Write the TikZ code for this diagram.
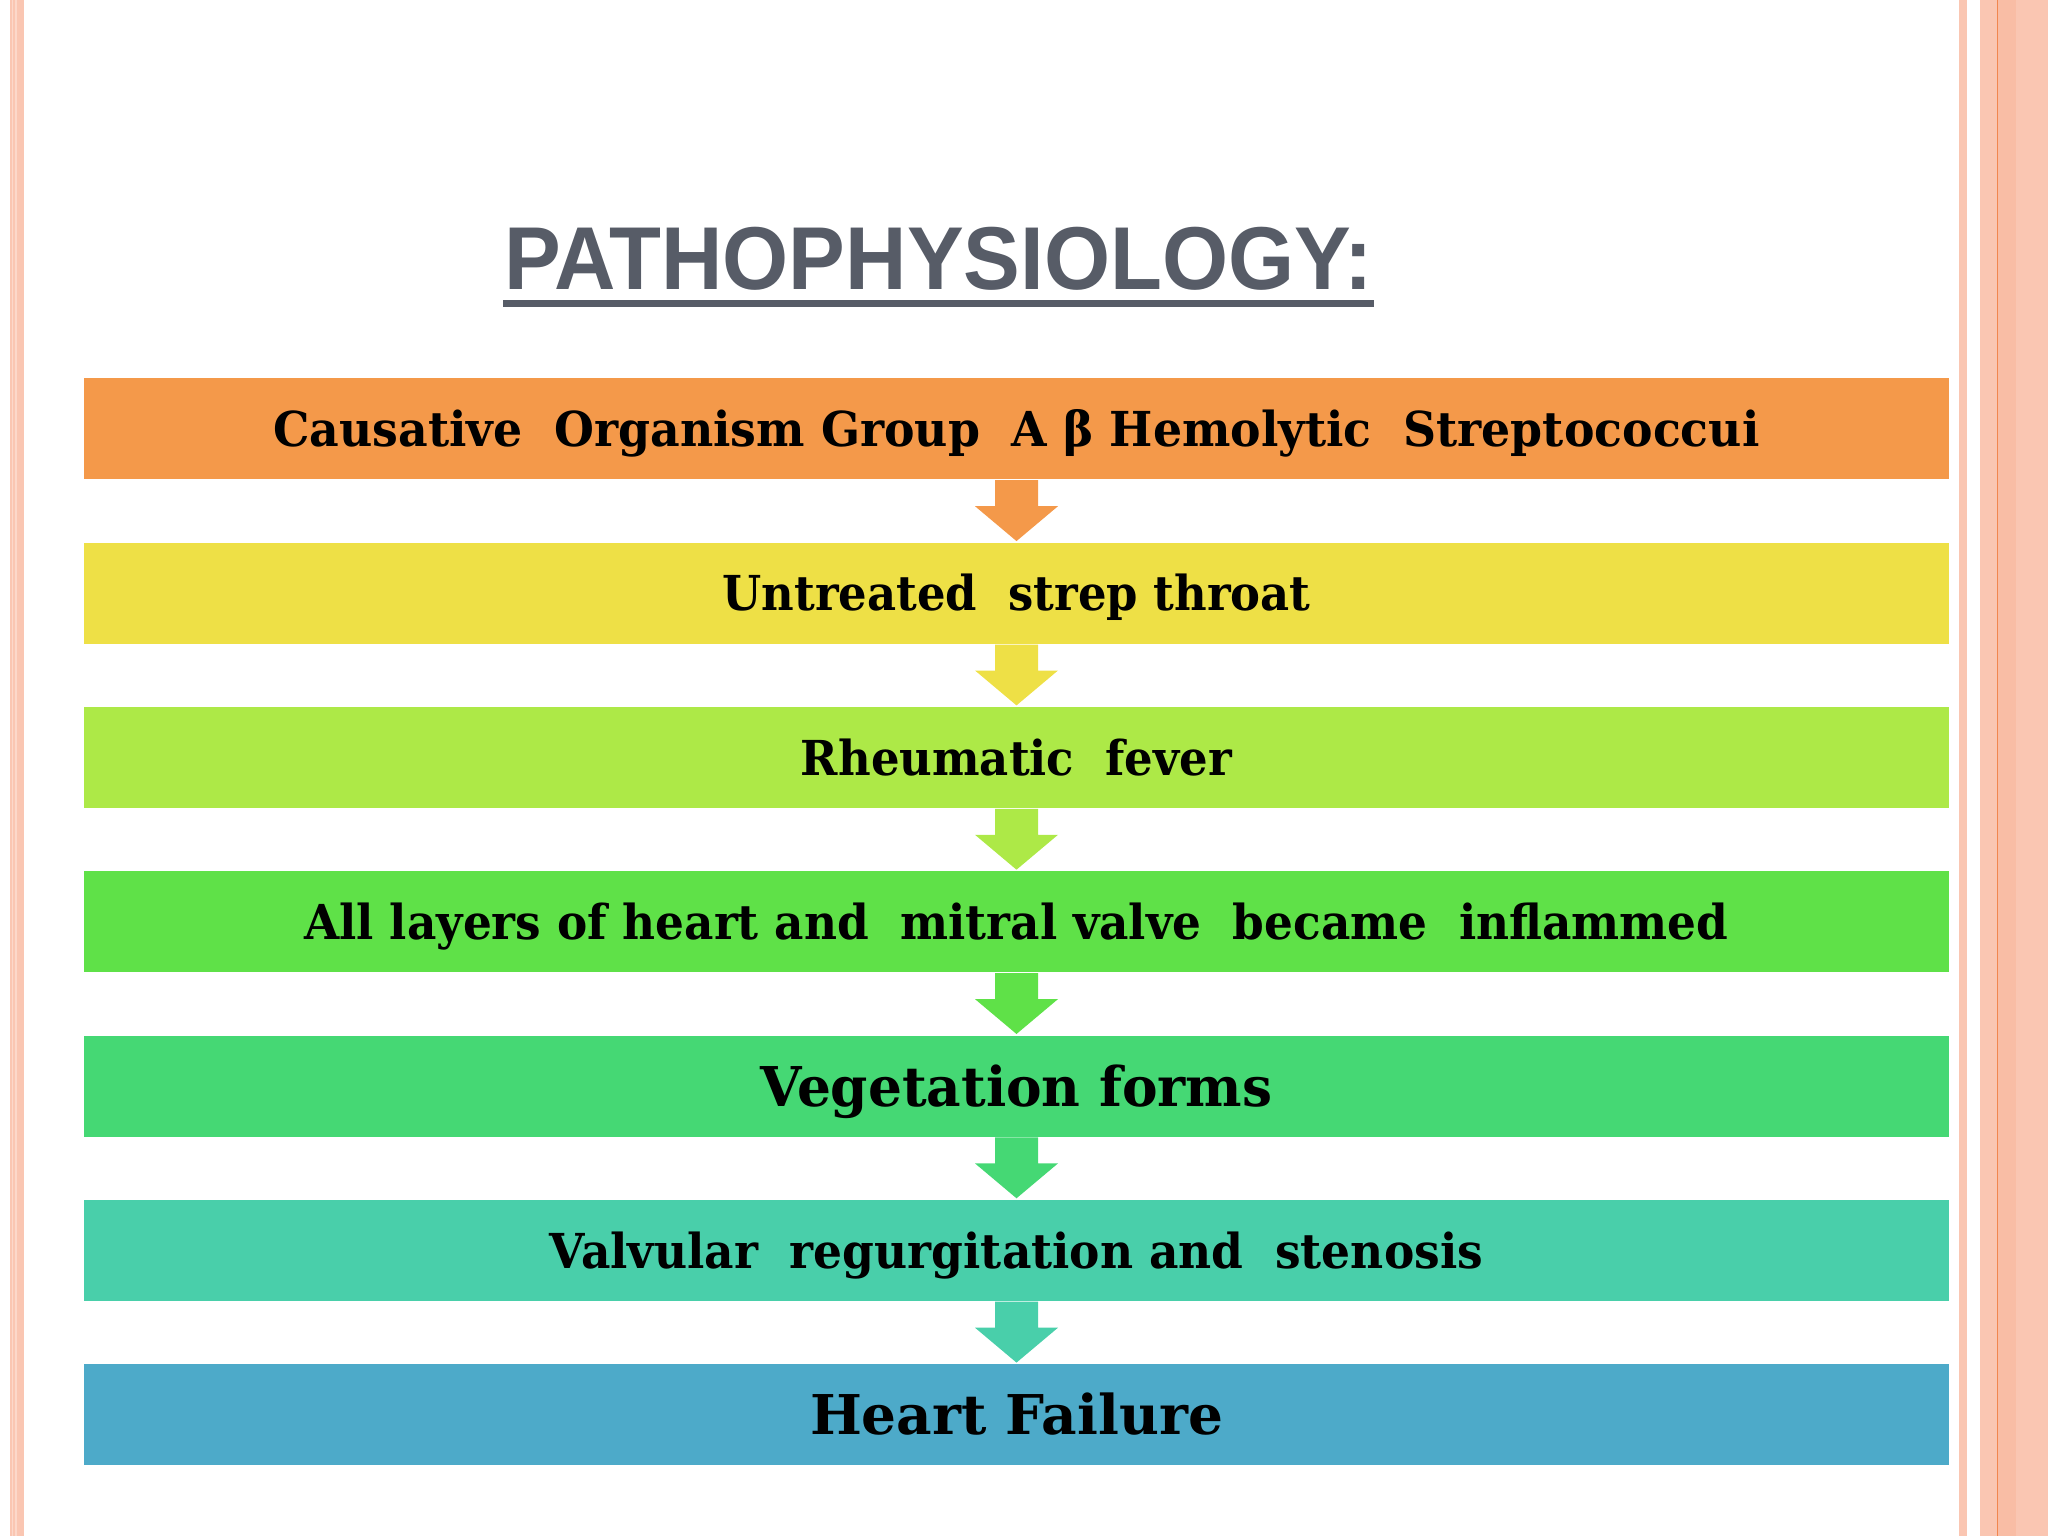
\documentclass[tikz,border=0pt]{standalone}
\usepackage{fontspec}
\usepackage{graphicx}
\usepackage{tikz}

\newfontfamily\titrefont{Liberation Sans}[FakeStretch=0.952]
\newfontfamily\etapefont{DejaVu Serif}

\definecolor{titregris}{HTML}{575C67}
\definecolor{saumon}{HTML}{FAC6B2}
\definecolor{saumonfonce}{HTML}{F9BDA5}
\definecolor{saumonclair}{HTML}{FCD8CA}
\definecolor{orangetrait}{HTML}{F2874F}
\definecolor{etapeA}{HTML}{F4994A}
\definecolor{etapeB}{HTML}{EEE046}
\definecolor{etapeC}{HTML}{ADE947}
\definecolor{etapeD}{HTML}{5FE148}
\definecolor{etapeE}{HTML}{45D874}
\definecolor{etapeF}{HTML}{49CFAA}
\definecolor{etapeG}{HTML}{4DAAC9}

\tikzset{
	titre/.style={inner sep=0pt,anchor=base,text=titregris,
		font=\titrefont\bfseries\fontsize{25.4}{30}\selectfont},
	etape/.style={rectangle,inner sep=0pt,minimum width=18.65cm,minimum height=1.01cm,
		text height=0.35cm,text depth=0cm,text=black,
		font=\etapefont\bfseries\fontsize{13.7}{16}\selectfont},
	grande/.style={text height=0.40cm,font=\etapefont\bfseries\fontsize{15.6}{18}\selectfont}
}

\begin{document}
\begin{tikzpicture}
	%
	% Dimensions modifiables
	\def\etapeX{10.165}
	\def\etapeYun{-4.29}
	\def\etapePas{1.643}
	\def\flecheTige{0.215}
	\def\flecheTete{0.415}
	\def\flecheCol{0.26}
	%
	\useasboundingbox (0,0) rectangle (20.48,-15.36);
	%
	% Bordures
	\fill[saumon] (0.10,0) rectangle (0.24,-15.36);
	\fill[saumonclair] (0.12,0) rectangle (0.135,-15.36);
	\fill[saumonclair] (0.155,0) rectangle (0.168,-15.36);
	\fill[saumon] (19.59,0) rectangle (19.67,-15.36);
	\fill[saumon] (19.80,0) rectangle (20.48,-15.36);
	\fill[saumonfonce] (19.97,0) rectangle (20.16,-15.36);
	\fill[orangetrait] (19.965,0) rectangle (19.98,-15.36);
	%
	% Titre
	\node[titre] (titre) at (9.385,-2.90) {PATHOPHYSIOLOGY:};
	\fill[titregris] (5.03,-3.00) rectangle (13.74,-3.07);
	%
	% Etapes
	\foreach \i/\coul/\larg/\style/\txt in {
		1/etapeA/14.86/etape/{Causative\ \ Organism Group\ \ A β Hemolytic\ \ Streptococcui},
		2/etapeB/5.88/etape/{Untreated\ \ strep throat},
		3/etapeC/4.31/etape/{Rheumatic\ \ fever},
		4/etapeD/14.24/etape/{All layers of heart and\ \ mitral valve\ \ became\ \ inflammed},
		5/etapeE/5.12/grande/{Vegetation forms},
		6/etapeF/9.33/etape/{Valvular\ \ regurgitation and\ \ stenosis},
		7/etapeG/4.13/grande/{Heart Failure}}
	{
		\node[etape,\style,fill=\coul] (e\i) at (\etapeX,{\etapeYun-(\i-1)*\etapePas})
			{\resizebox{\larg cm}{\height}{\txt}};
	}
	%
	% Fleches
	\foreach \i/\coul in {1/etapeA,2/etapeB,3/etapeC,4/etapeD,5/etapeE,6/etapeF}
	{
		\pgfmathtruncatemacro\j{\i+1}
		\fill[\coul] ([xshift=-\flecheTige cm]e\i.south)
			-- ([xshift=-\flecheTige cm,yshift=-\flecheCol cm]e\i.south)
			-- ([xshift=-\flecheTete cm,yshift=-\flecheCol cm]e\i.south)
			-- ([yshift=0.01cm]e\j.north)
			-- ([xshift=\flecheTete cm,yshift=-\flecheCol cm]e\i.south)
			-- ([xshift=\flecheTige cm,yshift=-\flecheCol cm]e\i.south)
			-- ([xshift=\flecheTige cm]e\i.south) -- cycle;
	}
\end{tikzpicture}
\end{document}
